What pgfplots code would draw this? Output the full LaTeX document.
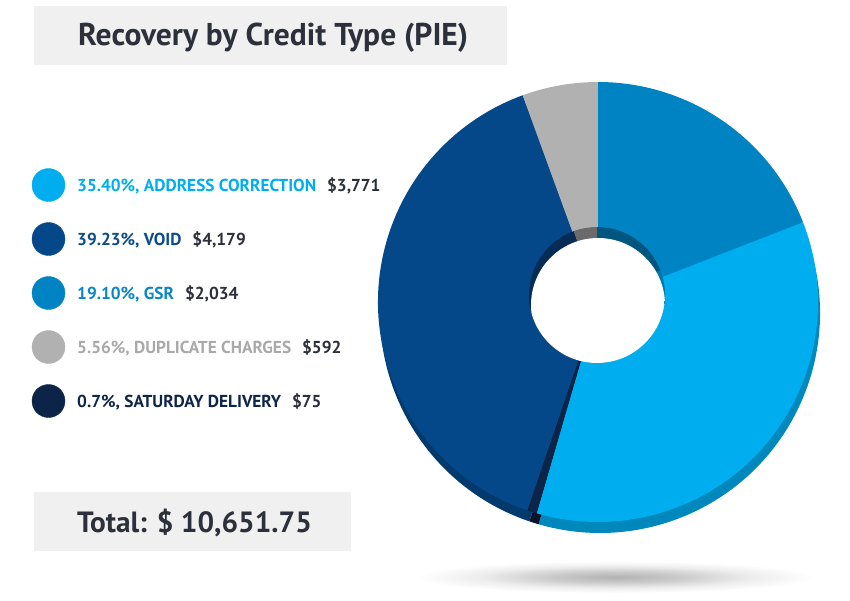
\documentclass[border=0pt]{standalone}
\usepackage{pgfplots}
\pgfplotsset{compat=1.18}
\usepackage{pgfplotstable}
\usepackage{fontspec}
\setmainfont{PT Sans}

\definecolor{cAddr}{HTML}{00AEEF}
\definecolor{cVoid}{HTML}{05488A}
\definecolor{cGsr}{HTML}{0083C3}
\definecolor{cDup}{HTML}{B1B1B1}
\definecolor{cSat}{HTML}{0C2447}
\definecolor{sAddr}{HTML}{0087BC}
\definecolor{sVoid}{HTML}{033A6E}
\definecolor{sGsr}{HTML}{006A9E}
\definecolor{sDup}{HTML}{8A8A8A}
\definecolor{sSat}{HTML}{06132A}
\definecolor{wAddr}{HTML}{007AAA}
\definecolor{wVoid}{HTML}{062C55}
\definecolor{wGsr}{HTML}{00567F}
\definecolor{wDup}{HTML}{6B6B6B}
\definecolor{wSat}{HTML}{051024}
\definecolor{txt}{HTML}{2C303B}
\definecolor{lAddr}{HTML}{00AEEF}
\definecolor{lVoid}{HTML}{0B4C8C}
\definecolor{lGsr}{HTML}{0A86C5}
\definecolor{lDup}{HTML}{A9A9A9}
\definecolor{lSat}{HTML}{0D2548}
\definecolor{boxc}{HTML}{F0F0F0}

\pgfdeclareradialshading{shadowsh}{\pgfpoint{0bp}{0bp}}{color(0bp)=(black!30); color(8bp)=(black!21); color(17bp)=(black!7); color(25bp)=(white); color(50bp)=(white)}

% clockwise from 12 o'clock
\pgfplotstableread{
name value
GSR 2034
ADDR 3771
SAT 75
VOID 4179
DUP 592
}\pietable
\pgfplotstablegetelem{0}{value}\of\pietable \let\vA\pgfplotsretval
\pgfplotstablegetelem{1}{value}\of\pietable \let\vB\pgfplotsretval
\pgfplotstablegetelem{2}{value}\of\pietable \let\vC\pgfplotsretval
\pgfplotstablegetelem{3}{value}\of\pietable \let\vD\pgfplotsretval
\pgfplotstablegetelem{4}{value}\of\pietable \let\vE\pgfplotsretval
\pgfmathsetmacro\tot{\vA+\vB+\vC+\vD+\vE}
\pgfmathsetmacro\aA{90}
\pgfmathsetmacro\aB{\aA-360*(\vA/\tot)}
\pgfmathsetmacro\aC{\aB-360*(\vB/\tot)}
\pgfmathsetmacro\aD{\aC-360*(\vC/\tot)}
\pgfmathsetmacro\aE{\aD-360*(\vD/\tot)}
\pgfmathsetmacro\aF{\aE-360*(\vE/\tot)}

\newcommand\sect[6]{\fill[#6] (axis cs:#1,#2) -- ++(#4:#3pt) arc[start angle=#4,end angle=#5,radius=#3pt] -- cycle;}
\newcommand\pie[4]{% x y r prefix
  \sect{#1}{#2}{#3}{\aA}{\aB}{#4Gsr}%
  \sect{#1}{#2}{#3}{\aB}{\aC}{#4Addr}%
  \sect{#1}{#2}{#3}{\aC}{\aD}{#4Sat}%
  \sect{#1}{#2}{#3}{\aD}{\aE}{#4Void}%
  \sect{#1}{#2}{#3}{\aE}{\aF}{#4Dup}}

\begin{document}%
\begin{tikzpicture}
\begin{axis}[scale only axis, width=850pt, height=600pt,
  xmin=0, xmax=850, ymin=0, ymax=600, y dir=reverse,
  hide axis, clip=false]
\path (axis cs:0,0) rectangle (axis cs:850,600);
% boxes
\fill[boxc] (axis cs:34,6) rectangle (axis cs:507,65);
\fill[boxc] (axis cs:34,492) rectangle (axis cs:351,551);
\node[anchor=base west, inner sep=0pt, text=txt, font=\fontsize{31.5}{36}\selectfont\bfseries] at (axis cs:78,45) {Recovery by Credit Type (PIE)};
\node[anchor=base west, inner sep=0pt, text=txt, font=\fontsize{29.3}{36}\selectfont\bfseries] at (axis cs:77,532) {Total: \$ 10,651.75};
% shadow
\shade[shading=shadowsh] (axis cs:615,577) ellipse [x radius=200pt, y radius=16pt];
% donut: side, top face, inner wall, hole
\pie{600}{313}{220}{s}
\pie{598}{302}{220}{c}
\pie{597}{295}{68}{w}
\begin{scope}
\clip (axis cs:597,295) circle[radius=68pt];
\fill[white] (axis cs:598,305) circle[radius=67pt];
\end{scope}
% legend markers
\addplot[only marks, mark=*, mark size=16.5pt, color=cAddr] coordinates {(48.5,185)};
\addplot[only marks, mark=*, mark size=16.5pt, color=cVoid] coordinates {(48.5,239)};
\addplot[only marks, mark=*, mark size=16.5pt, color=cGsr] coordinates {(48.5,293)};
\addplot[only marks, mark=*, mark size=16.5pt, color=cDup] coordinates {(48.5,347)};
\addplot[only marks, mark=*, mark size=16.5pt, color=cSat] coordinates {(48.5,401)};
\begin{scope}[every node/.style={anchor=base west, inner sep=0pt, font=\fontsize{17.3}{20}\selectfont\bfseries}]
\node at (axis cs:77,191) {\textcolor{lAddr}{35.40\%, ADDRESS CORRECTION}\hspace{11pt}\textcolor{txt}{\$3,771}};
\node at (axis cs:77,245) {\textcolor{lVoid}{39.23\%, VOID}\hspace{11pt}\textcolor{txt}{\$4,179}};
\node at (axis cs:77,299) {\textcolor{lGsr}{19.10\%, GSR}\hspace{11pt}\textcolor{txt}{\$2,034}};
\node at (axis cs:77,353) {\textcolor{lDup}{5.56\%, DUPLICATE CHARGES}\hspace{11pt}\textcolor{txt}{\$592}};
\node at (axis cs:77,407) {\textcolor{lSat}{0.7\%, SATURDAY DELIVERY}\hspace{11pt}\textcolor{txt}{\$75}};
\end{scope}
\end{axis}
\end{tikzpicture}%
\end{document}
